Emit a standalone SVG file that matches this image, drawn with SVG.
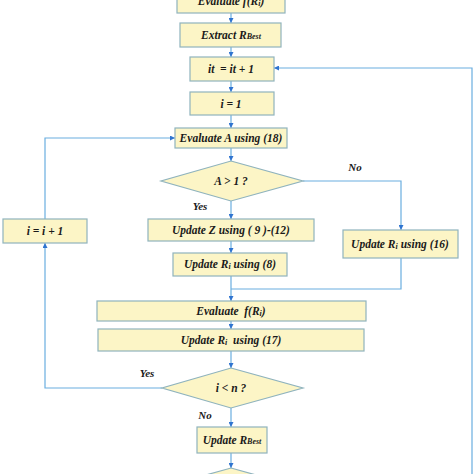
<svg xmlns="http://www.w3.org/2000/svg" width="474" height="474" viewBox="0 0 474 474">
<defs>
<style>
.box{fill:#fcf5c6;stroke:#8fb3bd;stroke-width:1.2}
.t{font-family:"Liberation Serif",serif;font-weight:bold;font-style:italic;font-size:11.5px;fill:#1a1a1a;text-anchor:middle}
.s{font-size:8px}
.c{fill:none;stroke:#6aaee0;stroke-width:1.2}
.lbl{font-family:"Liberation Serif",serif;font-weight:bold;font-style:italic;font-size:11px;fill:#1a1a1a}
</style>
<marker id="ar" viewBox="0 0 10 10" refX="10" refY="5" markerWidth="5" markerHeight="5" orient="auto" markerUnits="userSpaceOnUse">
<path d="M0,0 L10,5 L0,10 z" fill="#2f74d0"/>
</marker>
</defs>
<rect width="474" height="474" fill="#ffffff"/>

<g id="connectors">
<path class="c" d="M231,13 V23" marker-end="url(#ar)"/>
<path class="c" d="M231,47 V57" marker-end="url(#ar)"/>
<path class="c" d="M231,81 V92" marker-end="url(#ar)"/>
<path class="c" d="M231,115 V128" marker-end="url(#ar)"/>
<path class="c" d="M231,148 V161" marker-end="url(#ar)"/>
<path class="c" d="M231,201 V219" marker-end="url(#ar)"/>
<path class="c" d="M231,241 V253" marker-end="url(#ar)"/>
<path class="c" d="M231,276 V301" marker-end="url(#ar)"/>
<path class="c" d="M303,181 H401 V230" marker-end="url(#ar)"/>
<path class="c" d="M401,258 V289 H231"/>
<path class="c" d="M231,321 V329" marker-end="url(#ar)"/>
<path class="c" d="M231,351 V368" marker-end="url(#ar)"/>
<path class="c" d="M231,408 V427" marker-end="url(#ar)"/>
<path class="c" d="M231,453 V468" marker-end="url(#ar)"/>
<path class="c" d="M162,388 H45 V243" marker-end="url(#ar)"/>
<path class="c" d="M45,219 V138 H175" marker-end="url(#ar)"/>
<path class="c" d="M472,476 V68 H274" marker-end="url(#ar)"/>
<text class="lbl" x="200" y="210" text-anchor="middle">Yes</text>
<text class="lbl" x="355" y="171" text-anchor="middle">No</text>
<text class="lbl" x="147" y="377" text-anchor="middle">Yes</text>
<text class="lbl" x="205" y="419" text-anchor="middle">No</text>
<text class="lbl" x="355" y="481" text-anchor="middle">No</text>
</g>

<g id="n_eval_top">
<rect class="box" x="177" y="-8" width="108" height="21"/>
<text class="t" x="231" y="5">Evaluate f(R<tspan class="s" dy="1">i</tspan><tspan dy="-1">)</tspan></text>
</g>
<g id="n_extract">
<rect class="box" x="180" y="23" width="101" height="24"/>
<text class="t" x="231" y="39">Extract R<tspan class="s">Best</tspan></text>
</g>
<g id="n_it">
<rect class="box" x="190" y="57" width="84" height="24"/>
<text class="t" x="231" y="73" xml:space="preserve">it  = it + 1</text>
</g>
<g id="n_i1">
<rect class="box" x="190" y="92" width="84" height="23"/>
<text class="t" x="231" y="108">i  =  1</text>
</g>
<g id="n_evalA">
<rect class="box" x="175" y="128" width="112" height="20"/>
<text class="t" x="231" y="142">Evaluate A using (18)</text>
</g>
<g id="n_dA">
<polygon class="box" points="231,161 303,181 231,201 161,181"/>
<text class="t" x="231" y="185">A &gt; 1 ?</text>
</g>
<g id="n_ii">
<rect class="box" x="3" y="219" width="84" height="24"/>
<text class="t" x="45" y="235">i  = i + 1</text>
</g>
<g id="n_updZ">
<rect class="box" x="148" y="219" width="166" height="22"/>
<text class="t" x="231" y="234">Update Z using ( 9 )-(12)</text>
</g>
<g id="n_updR8">
<rect class="box" x="173" y="253" width="114" height="23"/>
<text class="t" x="230" y="268">Update R<tspan class="s" dy="1">i</tspan><tspan dy="-1"> using (8)</tspan></text>
</g>
<g id="n_updR16">
<rect class="box" x="343" y="230" width="115" height="28"/>
<text class="t" x="400" y="248">Update R<tspan class="s" dy="1">i</tspan><tspan dy="-1"> using (16)</tspan></text>
</g>
<g id="n_evalF">
<rect class="box" x="97" y="301" width="269" height="20"/>
<text class="t" x="231" y="315" xml:space="preserve">Evaluate  f(R<tspan class="s" dy="1">i</tspan><tspan dy="-1">)</tspan></text>
</g>
<g id="n_updR17">
<rect class="box" x="98" y="329" width="266" height="22"/>
<text class="t" x="231" y="344" xml:space="preserve">Update R<tspan class="s" dy="1">i</tspan><tspan dy="-1">  using (17)</tspan></text>
</g>
<g id="n_dN">
<polygon class="box" points="231,368 303,388 231,408 162,388"/>
<text class="t" x="231" y="392">i &lt; n ?</text>
</g>
<g id="n_best">
<rect class="box" x="197" y="427" width="70" height="26"/>
<text class="t" x="232" y="444">Update R<tspan class="s">Best</tspan></text>
</g>
<g id="n_d3">
<polygon class="box" points="231,468 303,488 231,508 159,488"/>
</g>
</svg>
